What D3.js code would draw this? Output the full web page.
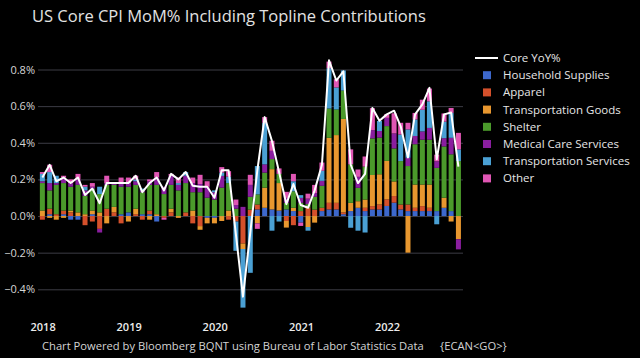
<!DOCTYPE html>
<html><head><meta charset="utf-8">
<script src="https://cdn.jsdelivr.net/npm/d3@7"></script>
<style>body{margin:0;background:#000;}svg{display:block;font-family:"Open Sans",sans-serif;}</style>
</head><body>
<svg id="c" width="640" height="358"></svg>
<script>
const months = ["2017-12",
"2018-01","2018-02","2018-03","2018-04","2018-05","2018-06","2018-07","2018-08","2018-09","2018-10","2018-11","2018-12",
"2019-01","2019-02","2019-03","2019-04","2019-05","2019-06","2019-07","2019-08","2019-09","2019-10","2019-11","2019-12",
"2020-01","2020-02","2020-03","2020-04","2020-05","2020-06","2020-07","2020-08","2020-09","2020-10","2020-11","2020-12",
"2021-01","2021-02","2021-03","2021-04","2021-05","2021-06","2021-07","2021-08","2021-09","2021-10","2021-11","2021-12",
"2022-01","2022-02","2022-03","2022-04","2022-05","2022-06","2022-07","2022-08","2022-09","2022-10"];

const coreLine = [0.21,0.28,0.19,0.21,0.18,0.21,0.115,0.15,0.07,0.18,0.18,0.18,0.18,0.22,0.13,0.18,0.21,0.14,0.23,0.20,0.24,0.165,0.16,0.16,0.10,0.25,0.25,-0.10,-0.44,-0.09,0.25,0.54,0.41,0.24,0.065,0.175,0.06,0.045,0.14,0.28,0.85,0.74,0.79,0.28,0.18,0.23,0.59,0.52,0.555,0.575,0.49,0.32,0.555,0.61,0.70,0.31,0.555,0.565,0.27];

const household = [0.00,0.01,0.00,0.01,-0.02,-0.02,0.00,0.01,0.00,0.00,0.00,0.01,0.02,0.00,0.01,0.01,-0.03,0.00,0.00,0.00,0.00,0.00,0.00,-0.01,-0.01,0.00,0.00,0.00,0.00,0.00,0.036,0.045,0.036,0.03,0.036,0.027,-0.036,0.00,0.00,0.027,0.036,0.036,0.01,0.027,0.045,0.027,0.036,0.036,0.055,0.073,0.036,0.027,0.027,0.027,0.027,0.027,0.045,0.027,0.00];
const apparel = [-0.02,0.03,0.01,0.02,0.02,0.00,-0.05,-0.03,-0.07,0.04,0.02,-0.04,0.00,0.01,-0.02,0.02,0.00,-0.01,0.02,0.00,0.02,-0.04,-0.055,0.00,0.00,0.00,-0.02,-0.03,-0.15,0.035,0.027,0.00,0.00,0.00,-0.027,-0.05,0.027,0.045,0.035,0.018,0.036,0.036,0.01,0.00,0.00,0.018,0.018,0.027,0.036,0.036,0.027,0.036,0.018,0.027,0.018,0.00,0.00,0.00,0.00];
const transGoods = [0.03,-0.01,-0.02,-0.01,0.01,0.02,0.01,0.02,0.02,-0.04,0.03,0.00,-0.03,0.03,0.00,-0.02,0.01,0.00,0.02,-0.01,0.00,0.03,-0.02,-0.03,-0.03,-0.027,0.03,0.00,-0.03,0.00,-0.04,0.11,0.22,0.15,-0.036,0.018,0.00,-0.06,-0.036,0.00,0.355,0.37,0.51,0.045,0.036,0.045,0.17,0.165,0.21,0.08,0.00,-0.20,0.127,0.118,0.127,0.00,0.055,-0.03,-0.127];
const shelter = [0.15,0.10,0.16,0.15,0.13,0.15,0.10,0.12,0.10,0.13,0.12,0.15,0.14,0.13,0.12,0.14,0.16,0.12,0.13,0.14,0.16,0.10,0.13,0.10,0.09,0.155,0.15,0.04,0.00,0.07,0.055,0.082,0.055,0.05,0.036,0.09,0.045,0.02,0.07,0.12,0.16,0.14,0.155,0.21,0.073,0.18,0.20,0.20,0.19,0.18,0.237,0.21,0.22,0.245,0.245,0.236,0.28,0.31,0.30];
const medical = [0.01,0.04,0.01,0.03,0.02,0.03,0.03,0.01,-0.02,0.01,0.01,0.02,0.02,0.02,0.01,0.02,0.04,0.04,0.05,0.03,0.04,0.05,0.045,0.06,0.04,0.064,0.00,0.02,0.05,0.065,0.00,0.045,0.045,0.00,0.027,0.00,0.027,0.03,0.02,0.027,0.00,0.00,0.00,0.00,0.06,0.00,0.045,0.036,0.045,0.082,0.00,0.045,0.045,0.045,0.064,0.036,0.045,0.09,-0.055];
const transServices = [0.04,0.06,0.04,0.00,0.00,0.00,0.02,0.00,0.04,0.00,0.00,0.00,0.00,0.01,0.01,0.00,0.00,0.00,0.00,0.01,0.02,0.00,0.00,0.00,0.01,0.018,0.035,-0.16,-0.32,-0.31,0.155,0.227,-0.08,-0.03,0.00,0.055,0.015,-0.02,0.00,0.055,0.22,0.12,0.11,-0.064,-0.08,-0.09,0.00,0.055,0.00,0.00,0.145,0.155,0.09,0.118,0.145,-0.045,0.09,0.136,0.064];
const other = [0.01,0.04,0.00,0.01,0.02,0.03,0.01,0.02,0.00,0.04,0.00,0.03,0.03,0.02,0.00,0.01,0.03,-0.01,0.01,0.03,0.00,0.03,0.05,0.03,0.00,0.03,0.03,0.03,0.00,0.055,-0.03,0.031,0.055,0.03,0.033,0.04,-0.018,0.027,0.045,0.045,0.036,0.045,0.00,0.082,0.04,0.055,0.12,0.00,0.02,0.11,0.064,0.036,0.036,0.055,0.07,0.036,0.045,0.027,0.09];

const seriesNames = ["Household Supplies","Apparel","Transportation Goods","Shelter","Medical Care Services","Transportation Services","Other"];
const seriesValues = [household, apparel, transGoods, shelter, medical, transServices, other];
const seriesColors = ["#3d68cc","#d4502b","#e8972f","#4b9a2b","#8a1e9f","#4aa0d4","#e056b4"];
const yTicks = [-0.4,-0.2,0,0.2,0.4,0.6,0.8];
const lineName = "Core YoY%";
const title = "US Core CPI MoM% Including Topline Contributions";
const footer = "Chart Powered by Bloomberg BQNT using Bureau of Labor Statistics Data";
const footerCode = "{ECAN<GO>}";

const svg = d3.select("#c");
svg.append("rect").attr("width",640).attr("height",358).attr("fill","#000");

const parse = d3.timeParse("%Y-%m");
const monthEnd = m => d3.timeDay.offset(d3.timeMonth.offset(parse(m),1),-1);
const table = months.map((m,i)=>{
  const r = {date: monthEnd(m), core: coreLine[i]};
  seriesNames.forEach((n,k)=>r[n]=seriesValues[k][i]);
  return r;
});

const x = d3.scaleTime().domain([new Date(2018,0,1), new Date(2022,0,1)]).range([42.6, 387]);
const y = d3.scaleLinear().domain([-0.4, 0.8]).range([289.3, 69.5]);
const plotL = 38, plotR = 463;

// grid + y labels
const yAxis = svg.append("g").attr("transform",`translate(${plotL},0)`)
  .call(d3.axisLeft(y).tickValues(yTicks).tickSize(-(plotR-plotL)).tickPadding(3)
    .tickFormat(d=>d3.format(".1f")(d)+"%"));
yAxis.select(".domain").remove();
yAxis.selectAll(".tick line").attr("stroke","#3c3c45").attr("stroke-width",1);
yAxis.selectAll(".tick text").attr("fill","#d6d6d6").style("font-size","11px").style("font-family","'Open Sans',sans-serif");

// stacked bars
const stack = d3.stack().keys(seriesNames).offset(d3.stackOffsetDiverging);
const layers = stack(table);
const bw = 5;
svg.append("g").selectAll("g").data(layers).join("g")
  .attr("fill",(d,i)=>seriesColors[i])
  .selectAll("rect").data(d=>d).join("rect")
  .attr("x",d=>x(d.data.date)-bw/2)
  .attr("width",bw)
  .attr("y",d=>y(Math.max(d[0],d[1])))
  .attr("height",d=>Math.abs(y(d[0])-y(d[1])));

// line
svg.append("path").datum(table)
  .attr("fill","none").attr("stroke","#fff").attr("stroke-width",2).attr("stroke-linejoin","round")
  .attr("d", d3.line().x(d=>x(d.date)).y(d=>y(d.core)));

// x axis labels
const xAxis = svg.append("g").attr("transform","translate(0,320)")
  .call(d3.axisBottom(x).ticks(d3.timeYear.every(1)).tickSize(0).tickFormat(d3.timeFormat("%Y")));
xAxis.select(".domain").remove();
xAxis.selectAll(".tick text").attr("fill","#ececec").style("font-size","11px").style("font-weight","600").style("font-family","'Open Sans',sans-serif");

// title
svg.append("text").attr("x",32).attr("y",22).attr("fill","#e2e2e2")
  .style("font-size","16.5px").style("font-family","'Open Sans',sans-serif").text(title);

// footer
svg.append("text").attr("x",42).attr("y",350).attr("fill","#d4d4d4")
  .style("font-size","11.2px").style("font-family","'Open Sans',sans-serif").text(footer);
svg.append("text").attr("x",440).attr("y",350).attr("fill","#d4d4d4")
  .style("font-size","11.2px").style("font-family","'Open Sans',sans-serif").text(footerCode);

// legend
const lg = svg.append("g").attr("transform","translate(475,58)");
lg.append("line").attr("x1",0).attr("x2",23).attr("y1",0).attr("y2",0).attr("stroke","#fff").attr("stroke-width",2);
lg.append("text").attr("x",28).attr("y",4).attr("fill","#e6e6e6").style("font-size","11.5px").text(lineName);
seriesNames.forEach((n,i)=>{
  const yy = 17.2*(i+1);
  lg.append("rect").attr("x",8).attr("y",yy-4).attr("width",8).attr("height",8).attr("fill",seriesColors[i]);
  lg.append("text").attr("x",28).attr("y",yy+4).attr("fill","#e6e6e6").style("font-size","11.5px").text(n);
});
</script>
</body></html>
